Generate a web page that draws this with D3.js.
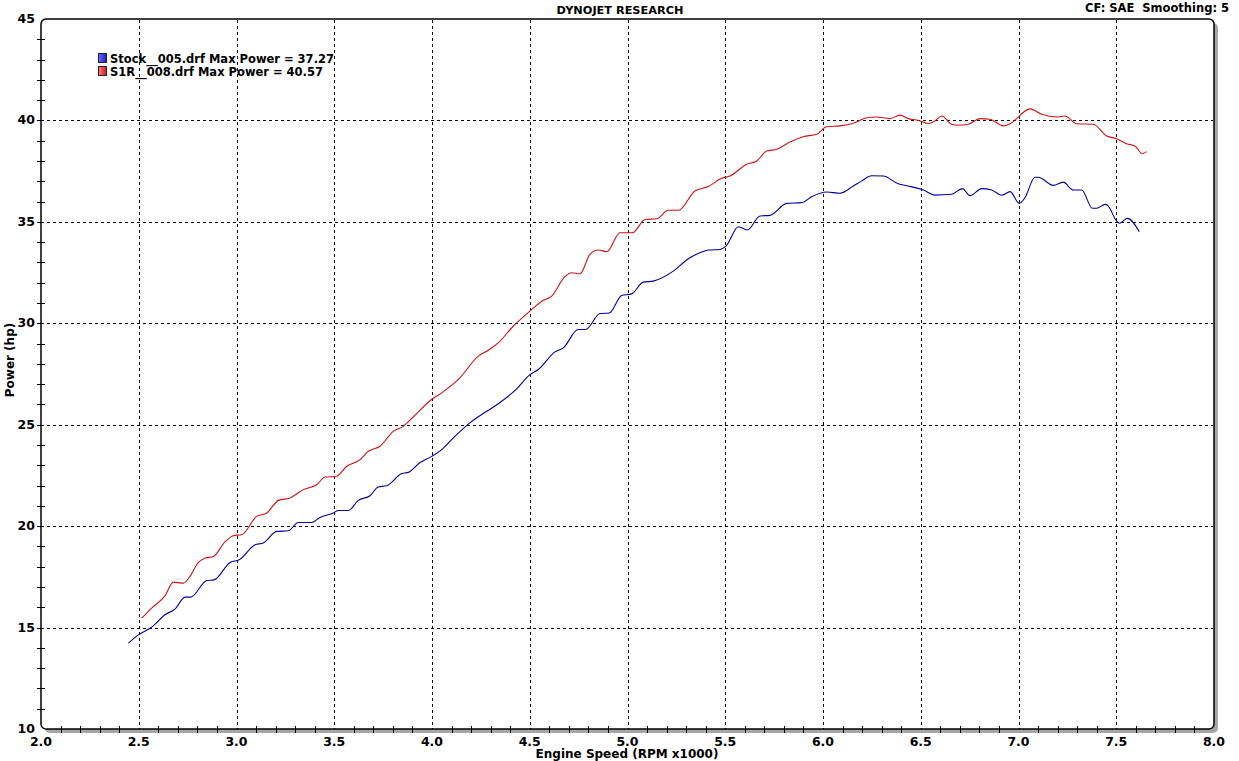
<!DOCTYPE html>
<html>
<head>
<meta charset="utf-8">
<script src="https://cdn.jsdelivr.net/npm/d3@7"></script>
<style>
  body { margin: 0; background: #fff; }
  text { font-family: "DejaVu Sans", Verdana, sans-serif; font-weight: bold; fill: #000; }
</style>
</head>
<body>
<div id="chart"></div>
<script>
// Stock run
const stockRpm = [2.447,2.498,2.566,2.634,2.685,2.737,2.766,2.848,2.885,2.967,3.014,3.095,3.137,3.206,3.265,3.316,3.385,3.427,3.495,3.521,3.572,3.623,3.683,3.725,3.768,3.845,3.879,3.939,3.998,4.050,4.109,4.194,4.262,4.339,4.433,4.501,4.544,4.629,4.672,4.748,4.786,4.859,4.907,4.970,5.021,5.081,5.132,5.234,5.311,5.371,5.413,5.473,5.504,5.567,5.613,5.678,5.729,5.814,5.891,5.942,6.019,6.087,6.155,6.198,6.249,6.308,6.385,6.436,6.513,6.573,6.658,6.713,6.752,6.812,6.863,6.914,6.957,7.004,7.033,7.084,7.101,7.178,7.229,7.280,7.323,7.378,7.400,7.442,7.454,7.502,7.516,7.557,7.618];
const stockHp = [14.23,14.64,15.02,15.63,15.91,16.50,16.50,17.32,17.35,18.21,18.34,19.08,19.17,19.74,19.77,20.18,20.18,20.43,20.65,20.77,20.77,21.27,21.50,21.93,21.99,22.59,22.65,23.14,23.44,23.77,24.35,25.09,25.55,26.03,26.77,27.47,27.72,28.59,28.79,29.69,29.69,30.48,30.51,31.37,31.45,32.03,32.08,32.57,33.18,33.48,33.61,33.64,33.80,34.76,34.60,35.29,35.32,35.91,35.95,36.24,36.47,36.41,36.77,37.02,37.27,37.26,36.88,36.77,36.57,36.32,36.36,36.64,36.29,36.64,36.57,36.31,36.49,35.91,36.19,37.20,37.20,36.80,36.96,36.57,36.57,35.67,35.67,35.86,35.83,35.04,34.93,35.17,34.52];

// S1R run
const s1rRpm = [2.515,2.566,2.634,2.677,2.728,2.762,2.805,2.839,2.881,2.941,2.984,3.027,3.103,3.155,3.214,3.274,3.342,3.410,3.453,3.509,3.564,3.632,3.674,3.734,3.802,3.853,3.904,3.998,4.050,4.135,4.237,4.288,4.348,4.408,4.501,4.561,4.612,4.680,4.714,4.757,4.808,4.851,4.894,4.962,5.025,5.090,5.149,5.209,5.260,5.345,5.413,5.482,5.524,5.610,5.661,5.712,5.763,5.831,5.899,5.968,6.019,6.087,6.155,6.215,6.274,6.343,6.394,6.436,6.479,6.539,6.573,6.607,6.658,6.692,6.743,6.803,6.854,6.922,6.957,7.059,7.119,7.195,7.238,7.298,7.383,7.451,7.502,7.553,7.596,7.633,7.656];
const s1rHp = [15.46,15.96,16.56,17.24,17.19,17.52,18.21,18.42,18.50,19.22,19.53,19.58,20.48,20.65,21.27,21.39,21.80,22.04,22.42,22.45,22.95,23.28,23.69,23.94,24.67,24.92,25.38,26.24,26.57,27.23,28.38,28.67,29.12,29.78,30.60,31.09,31.34,32.30,32.49,32.44,33.40,33.61,33.53,34.46,34.46,35.12,35.15,35.57,35.57,36.52,36.74,37.15,37.26,37.84,38.00,38.49,38.58,38.94,39.20,39.32,39.69,39.73,39.86,40.11,40.17,40.09,40.26,40.09,40.02,39.85,39.98,40.22,39.81,39.76,39.81,40.09,40.06,39.73,39.84,40.57,40.30,40.17,40.22,39.84,39.81,39.23,39.10,38.85,38.74,38.36,38.46];

const seriesNames = ["Stock__005.drf", "S1R__008.drf"];
const maxPower = [37.27, 40.57];
const xTicks = [2.0, 2.5, 3.0, 3.5, 4.0, 4.5, 5.0, 5.5, 6.0, 6.5, 7.0, 7.5, 8.0];
const yTicks = [10, 15, 20, 25, 30, 35, 40, 45];

const width = 1239, height = 761;
const pLeft = 41, pRight = 1214, pTop = 19, pBottom = 729;

const svg = d3.select("#chart")
    .append("svg")
    .attr("width", width)
    .attr("height", height);

const x = d3.scaleLinear().domain([2, 8]).range([pLeft, pRight]);
const y = d3.scaleLinear().domain([10, 45]).range([pBottom, pTop]);

// frame shadow + frame
svg.append("rect")
    .attr("x", pLeft + 4).attr("y", pTop + 4)
    .attr("width", pRight - pLeft).attr("height", pBottom - pTop)
    .attr("rx", 5)
    .attr("fill", "#a6a6a6");
svg.append("rect")
    .attr("x", pLeft).attr("y", pTop)
    .attr("width", pRight - pLeft).attr("height", pBottom - pTop)
    .attr("rx", 5)
    .attr("fill", "#fff")
    .attr("stroke", "#000")
    .attr("stroke-width", 1.5);

// dashed grid
svg.append("g")
    .selectAll("line")
    .data(xTicks.slice(1, -1))
    .join("line")
    .attr("x1", d => Math.round(x(d)) + 0.5).attr("x2", d => Math.round(x(d)) + 0.5)
    .attr("y1", pTop + 1).attr("y2", pBottom)
    .attr("stroke", "#000")
    .attr("stroke-dasharray", "3,3");
svg.append("g")
    .selectAll("line")
    .data(yTicks.slice(1, -1))
    .join("line")
    .attr("y1", d => Math.round(y(d)) + 0.5).attr("y2", d => Math.round(y(d)) + 0.5)
    .attr("x1", pLeft).attr("x2", pRight - 1)
    .attr("stroke", "#000")
    .attr("stroke-dasharray", "3,3");

// minor ticks
svg.append("g")
    .selectAll("line")
    .data(d3.range(21, 80).map(d => d / 10).filter(d => Math.abs(d * 2 - Math.round(d * 2)) > 1e-6))
    .join("line")
    .attr("x1", d => Math.round(x(d)) + 0.5).attr("x2", d => Math.round(x(d)) + 0.5)
    .attr("y1", pBottom - 3).attr("y2", pBottom + 4)
    .attr("stroke", "#000");
svg.append("g")
    .selectAll("line")
    .data(d3.range(11, 45).filter(d => d % 5 !== 0))
    .join("line")
    .attr("y1", d => Math.round(y(d)) + 0.5).attr("y2", d => Math.round(y(d)) + 0.5)
    .attr("x1", pLeft - 4).attr("x2", pLeft + 4)
    .attr("stroke", "#000");
svg.append("g")
    .selectAll("line")
    .data(yTicks.slice(1, -1))
    .join("line")
    .attr("y1", d => Math.round(y(d)) + 0.5).attr("y2", d => Math.round(y(d)) + 0.5)
    .attr("x1", pLeft - 4).attr("x2", pLeft)
    .attr("stroke", "#000");

// tick labels
svg.append("g")
    .selectAll("text")
    .data(xTicks)
    .join("text")
    .attr("x", d => x(d))
    .attr("y", pBottom + 17)
    .attr("text-anchor", "middle")
    .attr("font-size", 12.5)
    .text(d => d.toFixed(1));
svg.append("g")
    .selectAll("text")
    .data(yTicks)
    .join("text")
    .attr("x", pLeft - 6)
    .attr("y", d => y(d) + 4)
    .attr("text-anchor", "end")
    .attr("font-size", 12.5)
    .text(d => d);

// curves
const line = d3.line()
    .x(d => x(d[0]))
    .y(d => y(d[1]))
    .curve(d3.curveMonotoneX);

const runs = [
    { pts: d3.zip(stockRpm, stockHp), color: "#000096" },
    { pts: d3.zip(s1rRpm, s1rHp), color: "#c81414" }
];

svg.append("g")
    .selectAll("path")
    .data(runs)
    .join("path")
    .attr("d", d => line(d.pts))
    .attr("fill", "none")
    .attr("stroke", d => d.color)
    .attr("stroke-width", 1.1);

// legend
const swatch = [["#6f6fff", "#1a1ad0"], ["#ff7f7f", "#d81818"]];
const defs = svg.append("defs");
swatch.forEach((c, i) => {
    const g = defs.append("linearGradient").attr("id", "sw" + i);
    g.append("stop").attr("offset", "0%").attr("stop-color", c[0]);
    g.append("stop").attr("offset", "100%").attr("stop-color", c[1]);
});

const legend = svg.append("g");
legend.selectAll("rect")
    .data(seriesNames)
    .join("rect")
    .attr("x", 98.5).attr("y", (d, i) => 53.5 + i * 13)
    .attr("width", 8).attr("height", 9)
    .attr("fill", (d, i) => `url(#sw${i})`)
    .attr("stroke", "#222");
legend.selectAll("text")
    .data(seriesNames)
    .join("text")
    .attr("x", 110)
    .attr("y", (d, i) => 63 + i * 13)
    .attr("font-size", 11.5)
    .text((d, i) => `${d} Max Power = ${maxPower[i].toFixed(2)}`);

// titles
svg.append("text")
    .attr("x", 620).attr("y", 14)
    .attr("text-anchor", "middle")
    .attr("font-size", 11.3)
    .text("DYNOJET RESEARCH");
svg.append("text")
    .attr("x", 1229).attr("y", 12)
    .attr("text-anchor", "end")
    .attr("font-size", 11.5)
    .attr("xml:space", "preserve")
    .style("white-space", "pre")
    .text("CF: SAE  Smoothing: 5");
svg.append("text")
    .attr("x", 627).attr("y", 758)
    .attr("text-anchor", "middle")
    .attr("font-size", 12)
    .text("Engine Speed (RPM x1000)");
svg.append("text")
    .attr("transform", "translate(14,360) rotate(-90)")
    .attr("text-anchor", "middle")
    .attr("font-size", 12)
    .text("Power (hp)");
</script>
</body>
</html>
